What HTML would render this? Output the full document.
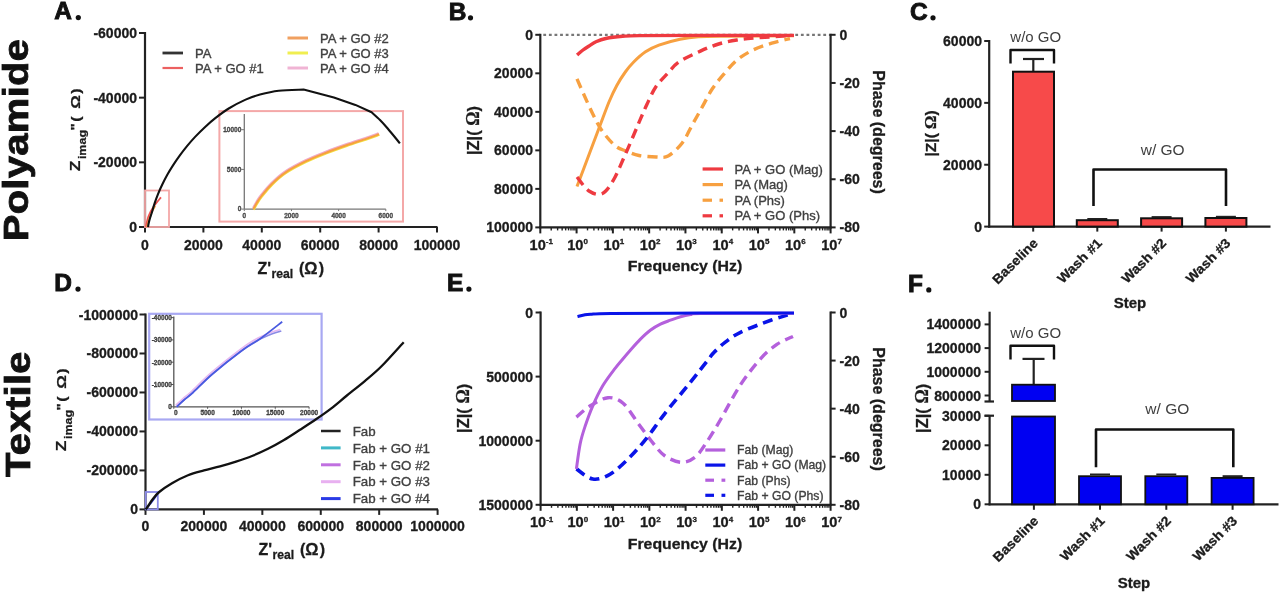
<!DOCTYPE html>
<html><head><meta charset="utf-8"><title>Impedance figure</title>
<style>html,body{margin:0;padding:0;background:#fff;width:1280px;height:594px;overflow:hidden}svg{display:block;filter:blur(0.6px)}text{font-family:"Liberation Sans",sans-serif}text[font-weight="bold"],g[font-weight="bold"] text{stroke:#1c1c1c;stroke-width:0.3px}</style>
</head><body>
<svg width="1280" height="594" viewBox="0 0 1280 594" font-family='"Liberation Sans", sans-serif'>
<rect width="1280" height="594" fill="#fff"/>
<text transform="translate(28,140) rotate(-90) scale(1.14,1)" font-size="35" font-weight="bold" text-anchor="middle" letter-spacing="0.3" fill="#111" style="stroke:#111;stroke-width:0.8px">Polyamide</text>
<text transform="translate(29.5,414) rotate(-90) scale(1.14,1)" font-size="35" font-weight="bold" text-anchor="middle" letter-spacing="0.3" fill="#111" style="stroke:#111;stroke-width:0.8px">Textile</text>
<text transform="translate(54.2,19.4) scale(1.04,1)" font-size="23.5" font-weight="bold" fill="#111" style="stroke:#111;stroke-width:0.9px">A</text>
<circle cx="78.3" cy="17.6" r="2.6" fill="#111"/>
<text transform="translate(448.7,19.6) scale(1.04,1)" font-size="23.5" font-weight="bold" fill="#111" style="stroke:#111;stroke-width:0.9px">B</text>
<circle cx="470.5" cy="17.8" r="2.6" fill="#111"/>
<text transform="translate(910.1,19.6) scale(1.04,1)" font-size="23.5" font-weight="bold" fill="#111" style="stroke:#111;stroke-width:0.9px">C</text>
<circle cx="933" cy="17.8" r="2.6" fill="#111"/>
<text transform="translate(54.2,290.9) scale(1.04,1)" font-size="23.5" font-weight="bold" fill="#111" style="stroke:#111;stroke-width:0.9px">D</text>
<circle cx="78" cy="289.1" r="2.6" fill="#111"/>
<text transform="translate(447,290.9) scale(1.04,1)" font-size="23.5" font-weight="bold" fill="#111" style="stroke:#111;stroke-width:0.9px">E</text>
<circle cx="468.9" cy="289.1" r="2.6" fill="#111"/>
<text transform="translate(908.1,291.7) scale(1.04,1)" font-size="23.5" font-weight="bold" fill="#111" style="stroke:#111;stroke-width:0.9px">F</text>
<circle cx="928.8" cy="289.9" r="2.6" fill="#111"/>
<line x1="145" y1="32" x2="145" y2="228" stroke="#222" stroke-width="2.2" />
<line x1="144" y1="227" x2="437.5" y2="227" stroke="#222" stroke-width="2.2" />
<line x1="139" y1="227" x2="145" y2="227" stroke="#222" stroke-width="2" />
<text x="137" y="232" font-size="14" font-weight="bold" text-anchor="end" fill="#1c1c1c" >0</text>
<line x1="139" y1="162.33" x2="145" y2="162.33" stroke="#222" stroke-width="2" />
<text x="137" y="167.33" font-size="14" font-weight="bold" text-anchor="end" fill="#1c1c1c" >-20000</text>
<line x1="139" y1="97.66" x2="145" y2="97.66" stroke="#222" stroke-width="2" />
<text x="137" y="102.66" font-size="14" font-weight="bold" text-anchor="end" fill="#1c1c1c" >-40000</text>
<line x1="139" y1="32.99" x2="145" y2="32.99" stroke="#222" stroke-width="2" />
<text x="137" y="37.99" font-size="14" font-weight="bold" text-anchor="end" fill="#1c1c1c" >-60000</text>
<line x1="145" y1="227" x2="145" y2="232.5" stroke="#222" stroke-width="2" />
<text x="145" y="249.5" font-size="14" font-weight="bold" text-anchor="middle" fill="#1c1c1c" >0</text>
<line x1="203.4" y1="227" x2="203.4" y2="232.5" stroke="#222" stroke-width="2" />
<text x="203.4" y="249.5" font-size="14" font-weight="bold" text-anchor="middle" fill="#1c1c1c" >20000</text>
<line x1="261.8" y1="227" x2="261.8" y2="232.5" stroke="#222" stroke-width="2" />
<text x="261.8" y="249.5" font-size="14" font-weight="bold" text-anchor="middle" fill="#1c1c1c" >40000</text>
<line x1="320.2" y1="227" x2="320.2" y2="232.5" stroke="#222" stroke-width="2" />
<text x="320.2" y="249.5" font-size="14" font-weight="bold" text-anchor="middle" fill="#1c1c1c" >60000</text>
<line x1="378.6" y1="227" x2="378.6" y2="232.5" stroke="#222" stroke-width="2" />
<text x="378.6" y="249.5" font-size="14" font-weight="bold" text-anchor="middle" fill="#1c1c1c" >80000</text>
<line x1="437" y1="227" x2="437" y2="232.5" stroke="#222" stroke-width="2" />
<text x="437" y="249.5" font-size="14" font-weight="bold" text-anchor="middle" fill="#1c1c1c" >100000</text>
<g fill="#1c1c1c" font-weight="bold"><text x="257.6" y="274" font-size="16">Z'</text><text x="271.4" y="277.5" font-size="12.2">real</text><text x="298.9" y="274" font-size="16">(</text><text x="304.2" y="274" font-size="16.5" font-family="'Liberation Serif', serif">&#937;</text><text x="318.8" y="274" font-size="16">)</text></g>
<g transform="translate(80.3,171.3) rotate(-90) scale(1,0.8)" fill="#1c1c1c" font-weight="bold"><text x="0" y="0" font-size="17.5">Z</text><text x="12.2" y="7" font-size="12.5">imag</text><text x="40.5" y="0" font-size="16">"</text><text x="49.5" y="0" font-size="16">(</text><text x="62.5" y="0" font-size="17" font-family="'Liberation Serif', serif">&#937;</text><text x="77.5" y="0" font-size="16">)</text></g>
<line x1="162.5" y1="53" x2="183" y2="53" stroke="#333" stroke-width="2.8" />
<text x="195" y="57.6" font-size="13" font-weight="normal" text-anchor="start" fill="#404040" stroke="#404040" stroke-width="0.35">PA</text>
<line x1="162.5" y1="68" x2="183" y2="68" stroke="#ec6060" stroke-width="2.2" />
<text x="195" y="72.6" font-size="13" font-weight="normal" text-anchor="start" fill="#404040" stroke="#404040" stroke-width="0.35">PA + GO #1</text>
<line x1="287.5" y1="38" x2="308" y2="38" stroke="#f0a060" stroke-width="3" />
<text x="320" y="42.6" font-size="13" font-weight="normal" text-anchor="start" fill="#404040" stroke="#404040" stroke-width="0.35">PA + GO #2</text>
<line x1="287.5" y1="53" x2="308" y2="53" stroke="#f0ee50" stroke-width="3" />
<text x="320" y="57.6" font-size="13" font-weight="normal" text-anchor="start" fill="#404040" stroke="#404040" stroke-width="0.35">PA + GO #3</text>
<line x1="287.5" y1="68" x2="308" y2="68" stroke="#f0b4d4" stroke-width="3" />
<text x="320" y="72.6" font-size="13" font-weight="normal" text-anchor="start" fill="#404040" stroke="#404040" stroke-width="0.35">PA + GO #4</text>
<rect x="145" y="190.5" width="24" height="36.5" fill="none" stroke="#f4a8a8" stroke-width="1.8"/>
<rect x="219.4" y="111.1" width="183.6" height="110.5" fill="none" stroke="#f4a8a8" stroke-width="2"/>
<path d="M145.8 227 C146.27 225.17 147.23 219.48 148.6 216 C149.97 212.52 151.93 209.2 154 206.1 C156.07 203 159.83 198.85 161 197.4" fill="none" stroke="#ee5050" stroke-width="1.8" stroke-linejoin="round" />
<path d="M146.6 227 C147.17 225.17 148.52 219.5 150 216 C151.48 212.5 154.58 207.67 155.5 206" fill="none" stroke="#f7a040" stroke-width="1.2" stroke-linejoin="round" />
<path d="M148 227 C148.15 226.22 148.53 223.88 148.9 222.3 C149.27 220.72 149.72 219.08 150.2 217.5 C150.68 215.92 151.07 215.17 151.8 212.8 C152.53 210.43 153.55 206.47 154.6 203.3 C155.65 200.13 156.8 196.97 158.1 193.8 C159.4 190.63 160.87 187.47 162.4 184.3 C163.93 181.13 165.53 177.95 167.3 174.8 C169.07 171.65 170.97 168.55 173 165.4 C175.03 162.25 177.2 159.07 179.5 155.9 C181.8 152.73 184.2 149.57 186.8 146.4 C189.4 143.23 192.13 140.07 195.1 136.9 C198.07 133.73 201.18 130.57 204.6 127.4 C208.02 124.23 211.58 121.05 215.6 117.9 C219.62 114.75 223.7 111.55 228.7 108.5 C233.7 105.45 240.38 101.92 245.6 99.6 C250.82 97.28 254.47 96.07 260 94.6 C265.53 93.13 271.53 91.63 278.8 90.8 C286.07 89.97 299.47 89.8 303.6 89.6 L333.9 97.5 L355.4 104.9 L371.6 112.3 C373 113.58 377.32 117.3 380 120 C382.68 122.7 384.38 124.62 387.7 128.5 C391.02 132.38 397.87 140.83 399.9 143.3" fill="none" stroke="#111" stroke-width="2.1" stroke-linejoin="round" />
<line x1="244.3" y1="114" x2="244.3" y2="209.1" stroke="#777" stroke-width="1.3" />
<line x1="244.3" y1="209.1" x2="385.8" y2="209.1" stroke="#777" stroke-width="1.3" />
<line x1="241.3" y1="209.1" x2="244.3" y2="209.1" stroke="#777" stroke-width="1" />
<text x="241.3" y="211.4" font-size="6.5" font-weight="bold" text-anchor="end" fill="#777" >0</text>
<line x1="241.3" y1="169.4" x2="244.3" y2="169.4" stroke="#777" stroke-width="1" />
<text x="241.3" y="171.7" font-size="6.5" font-weight="bold" text-anchor="end" fill="#777" >5000</text>
<line x1="241.3" y1="129.7" x2="244.3" y2="129.7" stroke="#777" stroke-width="1" />
<text x="241.3" y="132" font-size="6.5" font-weight="bold" text-anchor="end" fill="#777" >10000</text>
<line x1="244.3" y1="209.1" x2="244.3" y2="211.1" stroke="#777" stroke-width="1" />
<text x="244.3" y="218.3" font-size="6.5" font-weight="bold" text-anchor="middle" fill="#777" >0</text>
<line x1="291.47" y1="209.1" x2="291.47" y2="211.1" stroke="#777" stroke-width="1" />
<text x="291.47" y="218.3" font-size="6.5" font-weight="bold" text-anchor="middle" fill="#777" >2000</text>
<line x1="338.64" y1="209.1" x2="338.64" y2="211.1" stroke="#777" stroke-width="1" />
<text x="338.64" y="218.3" font-size="6.5" font-weight="bold" text-anchor="middle" fill="#777" >4000</text>
<line x1="385.81" y1="209.1" x2="385.81" y2="211.1" stroke="#777" stroke-width="1" />
<text x="385.81" y="218.3" font-size="6.5" font-weight="bold" text-anchor="middle" fill="#777" >6000</text>
<path d="M252.9 208 C253.5 206.9 255.15 203.58 256.5 201.4 C257.85 199.22 258.57 197.95 261 194.9 C263.43 191.85 267.07 187.05 271.1 183.1 C275.13 179.15 279.47 175.03 285.2 171.2 C290.93 167.37 298.75 163.37 305.5 160.1 C312.25 156.83 318.97 154.25 325.7 151.6 C332.43 148.95 339.17 146.55 345.9 144.2 C352.63 141.85 360.67 139.35 366.1 137.5 C371.53 135.65 376.43 133.83 378.5 133.1" fill="none" stroke="#f0a8c8" stroke-width="1.8" stroke-linejoin="round" />
<path d="M253.9 209.9 C254.5 208.8 256.15 205.48 257.5 203.3 C258.85 201.12 259.57 199.85 262 196.8 C264.43 193.75 268.07 188.95 272.1 185 C276.13 181.05 280.47 176.93 286.2 173.1 C291.93 169.27 299.75 165.27 306.5 162 C313.25 158.73 319.97 156.15 326.7 153.5 C333.43 150.85 340.17 148.45 346.9 146.1 C353.63 143.75 361.67 141.25 367.1 139.4 C372.53 137.55 377.43 135.73 379.5 135" fill="none" stroke="#f2e040" stroke-width="1.8" stroke-linejoin="round" />
<path d="M253.4 209.1 C254 208 255.65 204.68 257 202.5 C258.35 200.32 259.07 199.05 261.5 196 C263.93 192.95 267.57 188.15 271.6 184.2 C275.63 180.25 279.97 176.13 285.7 172.3 C291.43 168.47 299.25 164.47 306 161.2 C312.75 157.93 319.47 155.35 326.2 152.7 C332.93 150.05 339.67 147.65 346.4 145.3 C353.13 142.95 361.17 140.45 366.6 138.6 C372.03 136.75 376.93 134.93 379 134.2" fill="none" stroke="#f7a040" stroke-width="2" stroke-linejoin="round" />
<line x1="543.3" y1="34.8" x2="830.6" y2="34.8" stroke="#777" stroke-width="2.2" stroke-dasharray="2.8 2.8"/>
<line x1="540.3" y1="33.8" x2="540.3" y2="228.4" stroke="#222" stroke-width="2.2" />
<line x1="830.6" y1="33.8" x2="830.6" y2="228.4" stroke="#222" stroke-width="2.2" />
<line x1="539.3" y1="227.4" x2="831.6" y2="227.4" stroke="#222" stroke-width="2.2" />
<line x1="535.3" y1="34.8" x2="540.3" y2="34.8" stroke="#222" stroke-width="2" />
<text x="533" y="39.8" font-size="14" font-weight="bold" text-anchor="end" fill="#1c1c1c" >0</text>
<line x1="535.3" y1="73.32" x2="540.3" y2="73.32" stroke="#222" stroke-width="2" />
<text x="533" y="78.32" font-size="14" font-weight="bold" text-anchor="end" fill="#1c1c1c" >20000</text>
<line x1="535.3" y1="111.84" x2="540.3" y2="111.84" stroke="#222" stroke-width="2" />
<text x="533" y="116.84" font-size="14" font-weight="bold" text-anchor="end" fill="#1c1c1c" >40000</text>
<line x1="535.3" y1="150.36" x2="540.3" y2="150.36" stroke="#222" stroke-width="2" />
<text x="533" y="155.36" font-size="14" font-weight="bold" text-anchor="end" fill="#1c1c1c" >60000</text>
<line x1="535.3" y1="188.88" x2="540.3" y2="188.88" stroke="#222" stroke-width="2" />
<text x="533" y="193.88" font-size="14" font-weight="bold" text-anchor="end" fill="#1c1c1c" >80000</text>
<line x1="535.3" y1="227.4" x2="540.3" y2="227.4" stroke="#222" stroke-width="2" />
<text x="533" y="232.4" font-size="14" font-weight="bold" text-anchor="end" fill="#1c1c1c" >100000</text>
<line x1="830.6" y1="34.8" x2="835.6" y2="34.8" stroke="#222" stroke-width="2" />
<text x="839.5" y="39.8" font-size="14" font-weight="bold" text-anchor="start" fill="#1c1c1c" >0</text>
<line x1="830.6" y1="82.95" x2="835.6" y2="82.95" stroke="#222" stroke-width="2" />
<text x="839.5" y="87.95" font-size="14" font-weight="bold" text-anchor="start" fill="#1c1c1c" >-20</text>
<line x1="830.6" y1="131.1" x2="835.6" y2="131.1" stroke="#222" stroke-width="2" />
<text x="839.5" y="136.1" font-size="14" font-weight="bold" text-anchor="start" fill="#1c1c1c" >-40</text>
<line x1="830.6" y1="179.25" x2="835.6" y2="179.25" stroke="#222" stroke-width="2" />
<text x="839.5" y="184.25" font-size="14" font-weight="bold" text-anchor="start" fill="#1c1c1c" >-60</text>
<line x1="830.6" y1="227.4" x2="835.6" y2="227.4" stroke="#222" stroke-width="2" />
<text x="839.5" y="232.4" font-size="14" font-weight="bold" text-anchor="start" fill="#1c1c1c" >-80</text>
<line x1="540.3" y1="227.4" x2="540.3" y2="233.4" stroke="#222" stroke-width="2" />
<text x="541.3" y="249.8" font-size="14.6" font-weight="bold" text-anchor="middle" fill="#1c1c1c">10<tspan font-size="8" dy="-5.5">-1</tspan></text>
<line x1="551.22" y1="227.4" x2="551.22" y2="230.4" stroke="#222" stroke-width="1.4" />
<line x1="557.61" y1="227.4" x2="557.61" y2="230.4" stroke="#222" stroke-width="1.4" />
<line x1="562.15" y1="227.4" x2="562.15" y2="230.4" stroke="#222" stroke-width="1.4" />
<line x1="565.66" y1="227.4" x2="565.66" y2="230.4" stroke="#222" stroke-width="1.4" />
<line x1="568.54" y1="227.4" x2="568.54" y2="230.4" stroke="#222" stroke-width="1.4" />
<line x1="570.97" y1="227.4" x2="570.97" y2="230.4" stroke="#222" stroke-width="1.4" />
<line x1="573.07" y1="227.4" x2="573.07" y2="230.4" stroke="#222" stroke-width="1.4" />
<line x1="574.93" y1="227.4" x2="574.93" y2="230.4" stroke="#222" stroke-width="1.4" />
<line x1="576.59" y1="227.4" x2="576.59" y2="233.4" stroke="#222" stroke-width="2" />
<text x="577.59" y="249.8" font-size="14.6" font-weight="bold" text-anchor="middle" fill="#1c1c1c">10<tspan font-size="8" dy="-5.5">0</tspan></text>
<line x1="587.51" y1="227.4" x2="587.51" y2="230.4" stroke="#222" stroke-width="1.4" />
<line x1="593.9" y1="227.4" x2="593.9" y2="230.4" stroke="#222" stroke-width="1.4" />
<line x1="598.43" y1="227.4" x2="598.43" y2="230.4" stroke="#222" stroke-width="1.4" />
<line x1="601.95" y1="227.4" x2="601.95" y2="230.4" stroke="#222" stroke-width="1.4" />
<line x1="604.82" y1="227.4" x2="604.82" y2="230.4" stroke="#222" stroke-width="1.4" />
<line x1="607.25" y1="227.4" x2="607.25" y2="230.4" stroke="#222" stroke-width="1.4" />
<line x1="609.36" y1="227.4" x2="609.36" y2="230.4" stroke="#222" stroke-width="1.4" />
<line x1="611.21" y1="227.4" x2="611.21" y2="230.4" stroke="#222" stroke-width="1.4" />
<line x1="612.88" y1="227.4" x2="612.88" y2="233.4" stroke="#222" stroke-width="2" />
<text x="613.88" y="249.8" font-size="14.6" font-weight="bold" text-anchor="middle" fill="#1c1c1c">10<tspan font-size="8" dy="-5.5">1</tspan></text>
<line x1="623.8" y1="227.4" x2="623.8" y2="230.4" stroke="#222" stroke-width="1.4" />
<line x1="630.19" y1="227.4" x2="630.19" y2="230.4" stroke="#222" stroke-width="1.4" />
<line x1="634.72" y1="227.4" x2="634.72" y2="230.4" stroke="#222" stroke-width="1.4" />
<line x1="638.24" y1="227.4" x2="638.24" y2="230.4" stroke="#222" stroke-width="1.4" />
<line x1="641.11" y1="227.4" x2="641.11" y2="230.4" stroke="#222" stroke-width="1.4" />
<line x1="643.54" y1="227.4" x2="643.54" y2="230.4" stroke="#222" stroke-width="1.4" />
<line x1="645.65" y1="227.4" x2="645.65" y2="230.4" stroke="#222" stroke-width="1.4" />
<line x1="647.5" y1="227.4" x2="647.5" y2="230.4" stroke="#222" stroke-width="1.4" />
<line x1="649.16" y1="227.4" x2="649.16" y2="233.4" stroke="#222" stroke-width="2" />
<text x="650.16" y="249.8" font-size="14.6" font-weight="bold" text-anchor="middle" fill="#1c1c1c">10<tspan font-size="8" dy="-5.5">2</tspan></text>
<line x1="660.09" y1="227.4" x2="660.09" y2="230.4" stroke="#222" stroke-width="1.4" />
<line x1="666.48" y1="227.4" x2="666.48" y2="230.4" stroke="#222" stroke-width="1.4" />
<line x1="671.01" y1="227.4" x2="671.01" y2="230.4" stroke="#222" stroke-width="1.4" />
<line x1="674.53" y1="227.4" x2="674.53" y2="230.4" stroke="#222" stroke-width="1.4" />
<line x1="677.4" y1="227.4" x2="677.4" y2="230.4" stroke="#222" stroke-width="1.4" />
<line x1="679.83" y1="227.4" x2="679.83" y2="230.4" stroke="#222" stroke-width="1.4" />
<line x1="681.93" y1="227.4" x2="681.93" y2="230.4" stroke="#222" stroke-width="1.4" />
<line x1="683.79" y1="227.4" x2="683.79" y2="230.4" stroke="#222" stroke-width="1.4" />
<line x1="685.45" y1="227.4" x2="685.45" y2="233.4" stroke="#222" stroke-width="2" />
<text x="686.45" y="249.8" font-size="14.6" font-weight="bold" text-anchor="middle" fill="#1c1c1c">10<tspan font-size="8" dy="-5.5">3</tspan></text>
<line x1="696.37" y1="227.4" x2="696.37" y2="230.4" stroke="#222" stroke-width="1.4" />
<line x1="702.76" y1="227.4" x2="702.76" y2="230.4" stroke="#222" stroke-width="1.4" />
<line x1="707.3" y1="227.4" x2="707.3" y2="230.4" stroke="#222" stroke-width="1.4" />
<line x1="710.81" y1="227.4" x2="710.81" y2="230.4" stroke="#222" stroke-width="1.4" />
<line x1="713.69" y1="227.4" x2="713.69" y2="230.4" stroke="#222" stroke-width="1.4" />
<line x1="716.12" y1="227.4" x2="716.12" y2="230.4" stroke="#222" stroke-width="1.4" />
<line x1="718.22" y1="227.4" x2="718.22" y2="230.4" stroke="#222" stroke-width="1.4" />
<line x1="720.08" y1="227.4" x2="720.08" y2="230.4" stroke="#222" stroke-width="1.4" />
<line x1="721.74" y1="227.4" x2="721.74" y2="233.4" stroke="#222" stroke-width="2" />
<text x="722.74" y="249.8" font-size="14.6" font-weight="bold" text-anchor="middle" fill="#1c1c1c">10<tspan font-size="8" dy="-5.5">4</tspan></text>
<line x1="732.66" y1="227.4" x2="732.66" y2="230.4" stroke="#222" stroke-width="1.4" />
<line x1="739.05" y1="227.4" x2="739.05" y2="230.4" stroke="#222" stroke-width="1.4" />
<line x1="743.58" y1="227.4" x2="743.58" y2="230.4" stroke="#222" stroke-width="1.4" />
<line x1="747.1" y1="227.4" x2="747.1" y2="230.4" stroke="#222" stroke-width="1.4" />
<line x1="749.97" y1="227.4" x2="749.97" y2="230.4" stroke="#222" stroke-width="1.4" />
<line x1="752.4" y1="227.4" x2="752.4" y2="230.4" stroke="#222" stroke-width="1.4" />
<line x1="754.51" y1="227.4" x2="754.51" y2="230.4" stroke="#222" stroke-width="1.4" />
<line x1="756.36" y1="227.4" x2="756.36" y2="230.4" stroke="#222" stroke-width="1.4" />
<line x1="758.02" y1="227.4" x2="758.02" y2="233.4" stroke="#222" stroke-width="2" />
<text x="759.02" y="249.8" font-size="14.6" font-weight="bold" text-anchor="middle" fill="#1c1c1c">10<tspan font-size="8" dy="-5.5">5</tspan></text>
<line x1="768.95" y1="227.4" x2="768.95" y2="230.4" stroke="#222" stroke-width="1.4" />
<line x1="775.34" y1="227.4" x2="775.34" y2="230.4" stroke="#222" stroke-width="1.4" />
<line x1="779.87" y1="227.4" x2="779.87" y2="230.4" stroke="#222" stroke-width="1.4" />
<line x1="783.39" y1="227.4" x2="783.39" y2="230.4" stroke="#222" stroke-width="1.4" />
<line x1="786.26" y1="227.4" x2="786.26" y2="230.4" stroke="#222" stroke-width="1.4" />
<line x1="788.69" y1="227.4" x2="788.69" y2="230.4" stroke="#222" stroke-width="1.4" />
<line x1="790.8" y1="227.4" x2="790.8" y2="230.4" stroke="#222" stroke-width="1.4" />
<line x1="792.65" y1="227.4" x2="792.65" y2="230.4" stroke="#222" stroke-width="1.4" />
<line x1="794.31" y1="227.4" x2="794.31" y2="233.4" stroke="#222" stroke-width="2" />
<text x="795.31" y="249.8" font-size="14.6" font-weight="bold" text-anchor="middle" fill="#1c1c1c">10<tspan font-size="8" dy="-5.5">6</tspan></text>
<line x1="805.24" y1="227.4" x2="805.24" y2="230.4" stroke="#222" stroke-width="1.4" />
<line x1="811.63" y1="227.4" x2="811.63" y2="230.4" stroke="#222" stroke-width="1.4" />
<line x1="816.16" y1="227.4" x2="816.16" y2="230.4" stroke="#222" stroke-width="1.4" />
<line x1="819.68" y1="227.4" x2="819.68" y2="230.4" stroke="#222" stroke-width="1.4" />
<line x1="822.55" y1="227.4" x2="822.55" y2="230.4" stroke="#222" stroke-width="1.4" />
<line x1="824.98" y1="227.4" x2="824.98" y2="230.4" stroke="#222" stroke-width="1.4" />
<line x1="827.08" y1="227.4" x2="827.08" y2="230.4" stroke="#222" stroke-width="1.4" />
<line x1="828.94" y1="227.4" x2="828.94" y2="230.4" stroke="#222" stroke-width="1.4" />
<line x1="830.6" y1="227.4" x2="830.6" y2="233.4" stroke="#222" stroke-width="2" />
<text x="831.6" y="249.8" font-size="14.6" font-weight="bold" text-anchor="middle" fill="#1c1c1c">10<tspan font-size="8" dy="-5.5">7</tspan></text>
<text x="685" y="271.3" font-size="15" font-weight="bold" text-anchor="middle" fill="#1c1c1c" textLength="114.5" lengthAdjust="spacingAndGlyphs">Frequency (Hz)</text>
<text transform="translate(479,130.5) rotate(-90)" font-size="16.5" font-weight="bold" text-anchor="middle" fill="#1c1c1c">|Z|( <tspan font-size="17.82" font-family="'Liberation Serif', serif">&#937;</tspan>)</text>
<text transform="translate(872.5,132) rotate(90)" font-size="16" font-weight="bold" text-anchor="middle" fill="#1c1c1c">Phase (degrees)</text>
<path d="M577 186.5 C579.17 180.75 586.17 162.17 590 152 C593.83 141.83 596.8 133.92 600 125.5 C603.2 117.08 606.4 108.17 609.2 101.5 C612 94.83 614.12 90.42 616.8 85.5 C619.48 80.58 622.48 75.92 625.3 72 C628.12 68.08 630.33 65.37 633.7 62 C637.07 58.63 641.3 54.62 645.5 51.8 C649.7 48.98 653.15 47.2 658.9 45.1 C664.65 43 673.42 40.58 680 39.2 C686.58 37.82 690.07 37.3 698.4 36.8 C706.73 36.3 714.07 36.37 730 36.2 C745.93 36.03 783.33 35.87 794 35.8" fill="none" stroke="#f7a040" stroke-width="3" stroke-linejoin="round" />
<path d="M577 78.9 C578.08 81.37 580.87 87.85 583.5 93.7 C586.13 99.55 589.72 107.83 592.8 114 C595.88 120.17 598.3 125.43 602 130.7 C605.7 135.97 610.98 142.2 615 145.6 C619.02 149 622.1 149.45 626.1 151.1 C630.1 152.75 633.97 154.52 639 155.5 C644.03 156.48 651.45 156.92 656.3 157 C661.15 157.08 663.78 158.33 668.1 156 C672.42 153.67 678.17 148.2 682.2 143 C686.23 137.8 688.93 130.85 692.3 124.8 C695.67 118.75 699.03 112.75 702.4 106.7 C705.77 100.65 708.8 94.07 712.5 88.5 C716.2 82.93 720.55 78.02 724.6 73.3 C728.65 68.58 732.08 64.07 736.8 60.2 C741.52 56.33 747.07 52.93 752.9 50.1 C758.73 47.27 765.62 45.12 771.8 43.2 C777.98 41.28 786.97 39.37 790 38.6" fill="none" stroke="#f7a040" stroke-width="3.4" stroke-linejoin="round" stroke-dasharray="10 6"/>
<path d="M577 177 C579 179.33 584.83 188.22 589 191 C593.17 193.78 597.98 195.42 602 193.7 C606.02 191.98 609.38 186.87 613.1 180.7 C616.82 174.53 620.87 164.32 624.3 156.7 C627.73 149.08 631.02 141.25 633.7 135 C636.38 128.75 638.17 124.37 640.4 119.2 C642.63 114.03 644.57 109.33 647.1 104 C649.63 98.67 652.23 92.25 655.6 87.2 C658.97 82.15 663.38 77.92 667.3 73.7 C671.22 69.48 673.58 65.67 679.1 61.9 C684.62 58.13 693.82 54.08 700.4 51.1 C706.98 48.12 712.53 45.85 718.6 44 C724.67 42.15 730.45 41.02 736.8 40 C743.15 38.98 747.83 38.63 756.7 37.9 C765.57 37.17 784.45 35.98 790 35.6" fill="none" stroke="#ee3a40" stroke-width="3.4" stroke-linejoin="round" stroke-dasharray="10 6"/>
<path d="M577.1 55 C578.08 54.17 581.02 51.5 583 50 C584.98 48.5 586.83 47.37 589 46 C591.17 44.63 593.2 43.05 596 41.8 C598.8 40.55 601.37 39.42 605.8 38.5 C610.23 37.58 617 36.78 622.6 36.3 C628.2 35.82 626.5 35.75 639.4 35.6 C652.3 35.45 674.23 35.43 700 35.4 C725.77 35.37 778.33 35.4 794 35.4" fill="none" stroke="#ee3a40" stroke-width="3.4" stroke-linejoin="round" />
<line x1="702.6" y1="169" x2="723" y2="169" stroke="#ee3a40" stroke-width="3.2" />
<text x="734.6" y="173.6" font-size="13" font-weight="normal" text-anchor="start" fill="#404040" stroke="#404040" stroke-width="0.35">PA + GO (Mag)</text>
<line x1="702.6" y1="184.6" x2="723" y2="184.6" stroke="#f7a040" stroke-width="3.2" />
<text x="734.6" y="189.2" font-size="13" font-weight="normal" text-anchor="start" fill="#404040" stroke="#404040" stroke-width="0.35">PA (Mag)</text>
<line x1="702.6" y1="200.2" x2="712" y2="200.2" stroke="#f7a040" stroke-width="3.2" />
<line x1="719.5" y1="200.2" x2="723" y2="200.2" stroke="#f7a040" stroke-width="3.2" />
<text x="734.6" y="204.8" font-size="13" font-weight="normal" text-anchor="start" fill="#404040" stroke="#404040" stroke-width="0.35">PA (Phs)</text>
<line x1="702.6" y1="215.8" x2="712" y2="215.8" stroke="#ee3a40" stroke-width="3.2" />
<line x1="719.5" y1="215.8" x2="723" y2="215.8" stroke="#ee3a40" stroke-width="3.2" />
<text x="734.6" y="220.4" font-size="13" font-weight="normal" text-anchor="start" fill="#404040" stroke="#404040" stroke-width="0.35">PA + GO (Phs)</text>
<line x1="989.2" y1="40" x2="989.2" y2="227.6" stroke="#222" stroke-width="2.2" />
<line x1="988.2" y1="226.6" x2="1270.5" y2="226.6" stroke="#222" stroke-width="2.2" />
<line x1="984.2" y1="226.6" x2="989.2" y2="226.6" stroke="#222" stroke-width="2" />
<text x="982" y="231.6" font-size="14" font-weight="bold" text-anchor="end" fill="#1c1c1c" >0</text>
<line x1="984.2" y1="164.73" x2="989.2" y2="164.73" stroke="#222" stroke-width="2" />
<text x="982" y="169.73" font-size="14" font-weight="bold" text-anchor="end" fill="#1c1c1c" >20000</text>
<line x1="984.2" y1="102.87" x2="989.2" y2="102.87" stroke="#222" stroke-width="2" />
<text x="982" y="107.87" font-size="14" font-weight="bold" text-anchor="end" fill="#1c1c1c" >40000</text>
<line x1="984.2" y1="41" x2="989.2" y2="41" stroke="#222" stroke-width="2" />
<text x="982" y="46" font-size="14" font-weight="bold" text-anchor="end" fill="#1c1c1c" >60000</text>
<line x1="1033.2" y1="226.6" x2="1033.2" y2="231.6" stroke="#222" stroke-width="2" />
<text transform="translate(1038.7,243.9) rotate(-45) scale(1.07,1)" font-size="13.2" font-weight="bold" text-anchor="end" fill="#1c1c1c">Baseline</text>
<line x1="1097.3" y1="226.6" x2="1097.3" y2="231.6" stroke="#222" stroke-width="2" />
<text transform="translate(1102.8,243.9) rotate(-45) scale(1.07,1)" font-size="13.2" font-weight="bold" text-anchor="end" fill="#1c1c1c">Wash #1</text>
<line x1="1161.6" y1="226.6" x2="1161.6" y2="231.6" stroke="#222" stroke-width="2" />
<text transform="translate(1167.1,243.9) rotate(-45) scale(1.07,1)" font-size="13.2" font-weight="bold" text-anchor="end" fill="#1c1c1c">Wash #2</text>
<line x1="1225.9" y1="226.6" x2="1225.9" y2="231.6" stroke="#222" stroke-width="2" />
<text transform="translate(1231.4,243.9) rotate(-45) scale(1.07,1)" font-size="13.2" font-weight="bold" text-anchor="end" fill="#1c1c1c">Wash #3</text>
<text x="1130" y="308.3" font-size="15" font-weight="bold" text-anchor="middle" fill="#1c1c1c" >Step</text>
<text transform="translate(936,133.4) rotate(-90)" font-size="15.5" font-weight="bold" text-anchor="middle" fill="#1c1c1c">|Z|( <tspan font-size="16.74" font-family="'Liberation Serif', serif">&#937;</tspan>)</text>
<line x1="1033.3" y1="59" x2="1033.3" y2="72" stroke="#222" stroke-width="2.2" />
<line x1="1023" y1="59" x2="1044" y2="59" stroke="#222" stroke-width="2.2" />
<rect x="1013" y="71.7" width="41" height="154.9" fill="#f74a4a" stroke="#111" stroke-width="2"/>
<line x1="1087.3" y1="218.9" x2="1107.3" y2="218.9" stroke="#222" stroke-width="1.8" />
<rect x="1076.8" y="220.2" width="41" height="6.4" fill="#f74a4a" stroke="#111" stroke-width="2"/>
<line x1="1151.6" y1="217" x2="1171.6" y2="217" stroke="#222" stroke-width="1.8" />
<rect x="1141.1" y="218.3" width="41" height="8.3" fill="#f74a4a" stroke="#111" stroke-width="2"/>
<line x1="1215.9" y1="216.7" x2="1235.9" y2="216.7" stroke="#222" stroke-width="1.8" />
<rect x="1205.4" y="218" width="41" height="8.6" fill="#f74a4a" stroke="#111" stroke-width="2"/>
<path d="M1010.5 63.6 L1010.5 50 L1054 50 L1054 63.6" fill="none" stroke="#111" stroke-width="2.4" stroke-linejoin="round" />
<text x="1035.8" y="42.4" font-size="15" font-weight="normal" text-anchor="middle" fill="#404040" >w/o GO</text>
<path d="M1093.5 206 L1093.5 169.5 L1226 169.5 L1226 206" fill="none" stroke="#111" stroke-width="2.6" stroke-linejoin="round" />
<text x="1162.7" y="155.4" font-size="15.5" font-weight="normal" text-anchor="middle" fill="#404040" >w/ GO</text>
<line x1="145.5" y1="313.5" x2="145.5" y2="510.4" stroke="#222" stroke-width="2.2" />
<line x1="144.5" y1="509.4" x2="438" y2="509.4" stroke="#222" stroke-width="2.2" />
<line x1="139.5" y1="509.4" x2="145.5" y2="509.4" stroke="#222" stroke-width="2" />
<text x="138" y="514.4" font-size="14" font-weight="bold" text-anchor="end" fill="#1c1c1c" >0</text>
<line x1="139.5" y1="470.42" x2="145.5" y2="470.42" stroke="#222" stroke-width="2" />
<text x="138" y="475.42" font-size="14" font-weight="bold" text-anchor="end" fill="#1c1c1c" >-200000</text>
<line x1="139.5" y1="431.44" x2="145.5" y2="431.44" stroke="#222" stroke-width="2" />
<text x="138" y="436.44" font-size="14" font-weight="bold" text-anchor="end" fill="#1c1c1c" >-400000</text>
<line x1="139.5" y1="392.46" x2="145.5" y2="392.46" stroke="#222" stroke-width="2" />
<text x="138" y="397.46" font-size="14" font-weight="bold" text-anchor="end" fill="#1c1c1c" >-600000</text>
<line x1="139.5" y1="353.48" x2="145.5" y2="353.48" stroke="#222" stroke-width="2" />
<text x="138" y="358.48" font-size="14" font-weight="bold" text-anchor="end" fill="#1c1c1c" >-800000</text>
<line x1="139.5" y1="314.5" x2="145.5" y2="314.5" stroke="#222" stroke-width="2" />
<text x="138" y="319.5" font-size="14" font-weight="bold" text-anchor="end" fill="#1c1c1c" >-1000000</text>
<line x1="145.5" y1="509.4" x2="145.5" y2="514.9" stroke="#222" stroke-width="2" />
<text x="145.5" y="531" font-size="14" font-weight="bold" text-anchor="middle" fill="#1c1c1c" >0</text>
<line x1="203.92" y1="509.4" x2="203.92" y2="514.9" stroke="#222" stroke-width="2" />
<text x="203.92" y="531" font-size="14" font-weight="bold" text-anchor="middle" fill="#1c1c1c" >200000</text>
<line x1="262.34" y1="509.4" x2="262.34" y2="514.9" stroke="#222" stroke-width="2" />
<text x="262.34" y="531" font-size="14" font-weight="bold" text-anchor="middle" fill="#1c1c1c" >400000</text>
<line x1="320.76" y1="509.4" x2="320.76" y2="514.9" stroke="#222" stroke-width="2" />
<text x="320.76" y="531" font-size="14" font-weight="bold" text-anchor="middle" fill="#1c1c1c" >600000</text>
<line x1="379.18" y1="509.4" x2="379.18" y2="514.9" stroke="#222" stroke-width="2" />
<text x="379.18" y="531" font-size="14" font-weight="bold" text-anchor="middle" fill="#1c1c1c" >800000</text>
<line x1="437.6" y1="509.4" x2="437.6" y2="514.9" stroke="#222" stroke-width="2" />
<text x="437.6" y="531" font-size="14" font-weight="bold" text-anchor="middle" fill="#1c1c1c" >1000000</text>
<g fill="#1c1c1c" font-weight="bold"><text x="258.6" y="555" font-size="16">Z'</text><text x="272.4" y="558.5" font-size="12.2">real</text><text x="299.9" y="555" font-size="16">(</text><text x="305.2" y="555" font-size="16.5" font-family="'Liberation Serif', serif">&#937;</text><text x="319.8" y="555" font-size="16">)</text></g>
<g transform="translate(66.3,451.2) rotate(-90) scale(1,0.8)" fill="#1c1c1c" font-weight="bold"><text x="0" y="0" font-size="17.5">Z</text><text x="12.2" y="7" font-size="12.5">imag</text><text x="40.5" y="0" font-size="16">"</text><text x="49.5" y="0" font-size="16">(</text><text x="62.5" y="0" font-size="17" font-family="'Liberation Serif', serif">&#937;</text><text x="77.5" y="0" font-size="16">)</text></g>
<rect x="145.7" y="492" width="12.1" height="17.4" fill="none" stroke="#8a8ae8" stroke-width="1.8"/>
<rect x="149.2" y="313.8" width="172.4" height="105.7" fill="none" stroke="#a8a8f2" stroke-width="2.2"/>
<path d="M145.7 509.4 C146.42 508.5 148.45 505.98 150 504 C151.55 502.02 153.7 499.33 155 497.5 C156.3 495.67 157.33 493.75 157.8 493" fill="none" stroke="#3040d8" stroke-width="2" stroke-linejoin="round" />
<path d="M145.7 509.4 C146.17 508.75 147.37 507.15 148.5 505.5 C149.63 503.85 150.72 501.75 152.5 499.5 C154.28 497.25 155.95 494.72 159.2 492 C162.45 489.28 167.2 486 172 483.2 C176.8 480.4 182.67 477.33 188 475.2 C193.33 473.07 198.67 471.87 204 470.4 C209.33 468.93 214.67 467.87 220 466.4 C225.33 464.93 230.67 463.33 236 461.6 C241.33 459.87 246.67 458.13 252 456 C257.33 453.87 262.67 451.47 268 448.8 C273.33 446.13 278.67 443.17 284 440 C289.33 436.83 294.67 433.25 300 429.8 C305.33 426.35 310.83 422.83 316 419.3 C321.17 415.77 325.95 412.48 331 408.6 C336.05 404.72 340.67 400.58 346.3 396 C351.93 391.42 358.93 386.05 364.8 381.1 C370.67 376.15 375.02 372.78 381.5 366.3 C387.98 359.82 400 346.22 403.7 342.2" fill="none" stroke="#111" stroke-width="2.3" stroke-linejoin="round" />
<line x1="173.8" y1="316.6" x2="173.8" y2="406.8" stroke="#555" stroke-width="1.3" />
<line x1="173.8" y1="406.8" x2="309.1" y2="406.8" stroke="#555" stroke-width="1.3" />
<line x1="170.8" y1="406.8" x2="173.8" y2="406.8" stroke="#555" stroke-width="1" />
<text x="171.9" y="409.1" font-size="6.5" font-weight="bold" text-anchor="end" fill="#666" >0</text>
<line x1="170.8" y1="384.5" x2="173.8" y2="384.5" stroke="#555" stroke-width="1" />
<text x="171.9" y="386.8" font-size="6.5" font-weight="bold" text-anchor="end" fill="#666" >-10000</text>
<line x1="170.8" y1="362.2" x2="173.8" y2="362.2" stroke="#555" stroke-width="1" />
<text x="171.9" y="364.5" font-size="6.5" font-weight="bold" text-anchor="end" fill="#666" >-20000</text>
<line x1="170.8" y1="339.9" x2="173.8" y2="339.9" stroke="#555" stroke-width="1" />
<text x="171.9" y="342.2" font-size="6.5" font-weight="bold" text-anchor="end" fill="#666" >-30000</text>
<line x1="170.8" y1="317.6" x2="173.8" y2="317.6" stroke="#555" stroke-width="1" />
<text x="171.9" y="319.9" font-size="6.5" font-weight="bold" text-anchor="end" fill="#666" >-40000</text>
<line x1="173.8" y1="406.8" x2="173.8" y2="408.8" stroke="#555" stroke-width="1" />
<text x="175.8" y="415.3" font-size="6.5" font-weight="bold" text-anchor="middle" fill="#666" >0</text>
<line x1="207.62" y1="406.8" x2="207.62" y2="408.8" stroke="#555" stroke-width="1" />
<text x="207.62" y="415.3" font-size="6.5" font-weight="bold" text-anchor="middle" fill="#666" >5000</text>
<line x1="241.44" y1="406.8" x2="241.44" y2="408.8" stroke="#555" stroke-width="1" />
<text x="241.44" y="415.3" font-size="6.5" font-weight="bold" text-anchor="middle" fill="#666" >10000</text>
<line x1="275.26" y1="406.8" x2="275.26" y2="408.8" stroke="#555" stroke-width="1" />
<text x="275.26" y="415.3" font-size="6.5" font-weight="bold" text-anchor="middle" fill="#666" >15000</text>
<line x1="309.08" y1="406.8" x2="309.08" y2="408.8" stroke="#555" stroke-width="1" />
<text x="309.08" y="415.3" font-size="6.5" font-weight="bold" text-anchor="middle" fill="#666" >20000</text>
<path d="M175.7 405.3 C176.92 404.17 180.28 400.88 183 398.5 C185.72 396.12 187.3 395.3 192 391 C196.7 386.7 203.2 379.58 211.2 372.7 C219.2 365.82 232.97 355.07 240 349.7 C247.03 344.33 248.9 343.12 253.4 340.5 C257.9 337.88 262.52 335.83 267 334 C271.48 332.17 278.08 330.25 280.3 329.5" fill="none" stroke="#e6b8f0" stroke-width="1.6" stroke-linejoin="round" />
<path d="M176.7 406.8 C177.92 405.67 181.28 402.38 184 400 C186.72 397.62 188.3 396.8 193 392.5 C197.7 388.2 204.2 381.08 212.2 374.2 C220.2 367.32 233.97 356.57 241 351.2 C248.03 345.83 249.9 344.62 254.4 342 C258.9 339.38 263.52 337.33 268 335.5 C272.48 333.67 279.08 331.75 281.3 331" fill="none" stroke="#8a8ae6" stroke-width="1.6" stroke-linejoin="round" />
<path d="M176.7 406.8 C177.92 405.67 181.28 402.38 184 400 C186.72 397.62 188.3 396.8 193 392.5 C197.7 388.2 204.2 381.08 212.2 374.2 C220.2 367.32 233 357.12 241 351.2 C249 345.28 253.33 343.6 260.2 338.7 C267.07 333.8 278.53 324.62 282.2 321.8" fill="none" stroke="#4a5ae0" stroke-width="1.8" stroke-linejoin="round" />
<line x1="321" y1="431" x2="340.6" y2="431" stroke="#222" stroke-width="2.5" />
<text x="352.7" y="435.7" font-size="13.3" font-weight="normal" text-anchor="start" fill="#404040" stroke="#404040" stroke-width="0.35">Fab</text>
<line x1="321" y1="447.9" x2="340.6" y2="447.9" stroke="#40b8c8" stroke-width="3" />
<text x="352.7" y="452.6" font-size="13.3" font-weight="normal" text-anchor="start" fill="#404040" stroke="#404040" stroke-width="0.35">Fab + GO #1</text>
<line x1="321" y1="464.8" x2="340.6" y2="464.8" stroke="#c070e0" stroke-width="3" />
<text x="352.7" y="469.5" font-size="13.3" font-weight="normal" text-anchor="start" fill="#404040" stroke="#404040" stroke-width="0.35">Fab + GO #2</text>
<line x1="321" y1="481.7" x2="340.6" y2="481.7" stroke="#e8b0f0" stroke-width="3" />
<text x="352.7" y="486.4" font-size="13.3" font-weight="normal" text-anchor="start" fill="#404040" stroke="#404040" stroke-width="0.35">Fab + GO #3</text>
<line x1="321" y1="498.6" x2="340.6" y2="498.6" stroke="#2a3ae6" stroke-width="3" />
<text x="352.7" y="503.3" font-size="13.3" font-weight="normal" text-anchor="start" fill="#404040" stroke="#404040" stroke-width="0.35">Fab + GO #4</text>
<line x1="540.6" y1="311.5" x2="540.6" y2="505.8" stroke="#222" stroke-width="2.2" />
<line x1="830.6" y1="311.5" x2="830.6" y2="505.8" stroke="#222" stroke-width="2.2" />
<line x1="539.6" y1="504.8" x2="831.6" y2="504.8" stroke="#222" stroke-width="2.2" />
<line x1="535.6" y1="312.5" x2="540.6" y2="312.5" stroke="#222" stroke-width="2" />
<text x="533" y="317.5" font-size="14" font-weight="bold" text-anchor="end" fill="#1c1c1c" >0</text>
<line x1="535.6" y1="376.6" x2="540.6" y2="376.6" stroke="#222" stroke-width="2" />
<text x="533" y="381.6" font-size="14" font-weight="bold" text-anchor="end" fill="#1c1c1c" >500000</text>
<line x1="535.6" y1="440.7" x2="540.6" y2="440.7" stroke="#222" stroke-width="2" />
<text x="533" y="445.7" font-size="14" font-weight="bold" text-anchor="end" fill="#1c1c1c" >1000000</text>
<line x1="535.6" y1="504.8" x2="540.6" y2="504.8" stroke="#222" stroke-width="2" />
<text x="533" y="509.8" font-size="14" font-weight="bold" text-anchor="end" fill="#1c1c1c" >1500000</text>
<line x1="830.6" y1="312.5" x2="835.6" y2="312.5" stroke="#222" stroke-width="2" />
<text x="839.5" y="317.5" font-size="14" font-weight="bold" text-anchor="start" fill="#1c1c1c" >0</text>
<line x1="830.6" y1="360.57" x2="835.6" y2="360.57" stroke="#222" stroke-width="2" />
<text x="839.5" y="365.57" font-size="14" font-weight="bold" text-anchor="start" fill="#1c1c1c" >-20</text>
<line x1="830.6" y1="408.65" x2="835.6" y2="408.65" stroke="#222" stroke-width="2" />
<text x="839.5" y="413.65" font-size="14" font-weight="bold" text-anchor="start" fill="#1c1c1c" >-40</text>
<line x1="830.6" y1="456.73" x2="835.6" y2="456.73" stroke="#222" stroke-width="2" />
<text x="839.5" y="461.73" font-size="14" font-weight="bold" text-anchor="start" fill="#1c1c1c" >-60</text>
<line x1="830.6" y1="504.8" x2="835.6" y2="504.8" stroke="#222" stroke-width="2" />
<text x="839.5" y="509.8" font-size="14" font-weight="bold" text-anchor="start" fill="#1c1c1c" >-80</text>
<line x1="540.6" y1="504.8" x2="540.6" y2="510.8" stroke="#222" stroke-width="2" />
<text x="541.6" y="527" font-size="14.6" font-weight="bold" text-anchor="middle" fill="#1c1c1c">10<tspan font-size="8" dy="-5.5">-1</tspan></text>
<line x1="551.51" y1="504.8" x2="551.51" y2="507.8" stroke="#222" stroke-width="1.4" />
<line x1="557.9" y1="504.8" x2="557.9" y2="507.8" stroke="#222" stroke-width="1.4" />
<line x1="562.42" y1="504.8" x2="562.42" y2="507.8" stroke="#222" stroke-width="1.4" />
<line x1="565.94" y1="504.8" x2="565.94" y2="507.8" stroke="#222" stroke-width="1.4" />
<line x1="568.81" y1="504.8" x2="568.81" y2="507.8" stroke="#222" stroke-width="1.4" />
<line x1="571.23" y1="504.8" x2="571.23" y2="507.8" stroke="#222" stroke-width="1.4" />
<line x1="573.34" y1="504.8" x2="573.34" y2="507.8" stroke="#222" stroke-width="1.4" />
<line x1="575.19" y1="504.8" x2="575.19" y2="507.8" stroke="#222" stroke-width="1.4" />
<line x1="576.85" y1="504.8" x2="576.85" y2="510.8" stroke="#222" stroke-width="2" />
<text x="577.85" y="527" font-size="14.6" font-weight="bold" text-anchor="middle" fill="#1c1c1c">10<tspan font-size="8" dy="-5.5">0</tspan></text>
<line x1="587.76" y1="504.8" x2="587.76" y2="507.8" stroke="#222" stroke-width="1.4" />
<line x1="594.15" y1="504.8" x2="594.15" y2="507.8" stroke="#222" stroke-width="1.4" />
<line x1="598.67" y1="504.8" x2="598.67" y2="507.8" stroke="#222" stroke-width="1.4" />
<line x1="602.19" y1="504.8" x2="602.19" y2="507.8" stroke="#222" stroke-width="1.4" />
<line x1="605.06" y1="504.8" x2="605.06" y2="507.8" stroke="#222" stroke-width="1.4" />
<line x1="607.48" y1="504.8" x2="607.48" y2="507.8" stroke="#222" stroke-width="1.4" />
<line x1="609.59" y1="504.8" x2="609.59" y2="507.8" stroke="#222" stroke-width="1.4" />
<line x1="611.44" y1="504.8" x2="611.44" y2="507.8" stroke="#222" stroke-width="1.4" />
<line x1="613.1" y1="504.8" x2="613.1" y2="510.8" stroke="#222" stroke-width="2" />
<text x="614.1" y="527" font-size="14.6" font-weight="bold" text-anchor="middle" fill="#1c1c1c">10<tspan font-size="8" dy="-5.5">1</tspan></text>
<line x1="624.01" y1="504.8" x2="624.01" y2="507.8" stroke="#222" stroke-width="1.4" />
<line x1="630.4" y1="504.8" x2="630.4" y2="507.8" stroke="#222" stroke-width="1.4" />
<line x1="634.92" y1="504.8" x2="634.92" y2="507.8" stroke="#222" stroke-width="1.4" />
<line x1="638.44" y1="504.8" x2="638.44" y2="507.8" stroke="#222" stroke-width="1.4" />
<line x1="641.31" y1="504.8" x2="641.31" y2="507.8" stroke="#222" stroke-width="1.4" />
<line x1="643.73" y1="504.8" x2="643.73" y2="507.8" stroke="#222" stroke-width="1.4" />
<line x1="645.84" y1="504.8" x2="645.84" y2="507.8" stroke="#222" stroke-width="1.4" />
<line x1="647.69" y1="504.8" x2="647.69" y2="507.8" stroke="#222" stroke-width="1.4" />
<line x1="649.35" y1="504.8" x2="649.35" y2="510.8" stroke="#222" stroke-width="2" />
<text x="650.35" y="527" font-size="14.6" font-weight="bold" text-anchor="middle" fill="#1c1c1c">10<tspan font-size="8" dy="-5.5">2</tspan></text>
<line x1="660.26" y1="504.8" x2="660.26" y2="507.8" stroke="#222" stroke-width="1.4" />
<line x1="666.65" y1="504.8" x2="666.65" y2="507.8" stroke="#222" stroke-width="1.4" />
<line x1="671.17" y1="504.8" x2="671.17" y2="507.8" stroke="#222" stroke-width="1.4" />
<line x1="674.69" y1="504.8" x2="674.69" y2="507.8" stroke="#222" stroke-width="1.4" />
<line x1="677.56" y1="504.8" x2="677.56" y2="507.8" stroke="#222" stroke-width="1.4" />
<line x1="679.98" y1="504.8" x2="679.98" y2="507.8" stroke="#222" stroke-width="1.4" />
<line x1="682.09" y1="504.8" x2="682.09" y2="507.8" stroke="#222" stroke-width="1.4" />
<line x1="683.94" y1="504.8" x2="683.94" y2="507.8" stroke="#222" stroke-width="1.4" />
<line x1="685.6" y1="504.8" x2="685.6" y2="510.8" stroke="#222" stroke-width="2" />
<text x="686.6" y="527" font-size="14.6" font-weight="bold" text-anchor="middle" fill="#1c1c1c">10<tspan font-size="8" dy="-5.5">3</tspan></text>
<line x1="696.51" y1="504.8" x2="696.51" y2="507.8" stroke="#222" stroke-width="1.4" />
<line x1="702.9" y1="504.8" x2="702.9" y2="507.8" stroke="#222" stroke-width="1.4" />
<line x1="707.42" y1="504.8" x2="707.42" y2="507.8" stroke="#222" stroke-width="1.4" />
<line x1="710.94" y1="504.8" x2="710.94" y2="507.8" stroke="#222" stroke-width="1.4" />
<line x1="713.81" y1="504.8" x2="713.81" y2="507.8" stroke="#222" stroke-width="1.4" />
<line x1="716.23" y1="504.8" x2="716.23" y2="507.8" stroke="#222" stroke-width="1.4" />
<line x1="718.34" y1="504.8" x2="718.34" y2="507.8" stroke="#222" stroke-width="1.4" />
<line x1="720.19" y1="504.8" x2="720.19" y2="507.8" stroke="#222" stroke-width="1.4" />
<line x1="721.85" y1="504.8" x2="721.85" y2="510.8" stroke="#222" stroke-width="2" />
<text x="722.85" y="527" font-size="14.6" font-weight="bold" text-anchor="middle" fill="#1c1c1c">10<tspan font-size="8" dy="-5.5">4</tspan></text>
<line x1="732.76" y1="504.8" x2="732.76" y2="507.8" stroke="#222" stroke-width="1.4" />
<line x1="739.15" y1="504.8" x2="739.15" y2="507.8" stroke="#222" stroke-width="1.4" />
<line x1="743.67" y1="504.8" x2="743.67" y2="507.8" stroke="#222" stroke-width="1.4" />
<line x1="747.19" y1="504.8" x2="747.19" y2="507.8" stroke="#222" stroke-width="1.4" />
<line x1="750.06" y1="504.8" x2="750.06" y2="507.8" stroke="#222" stroke-width="1.4" />
<line x1="752.48" y1="504.8" x2="752.48" y2="507.8" stroke="#222" stroke-width="1.4" />
<line x1="754.59" y1="504.8" x2="754.59" y2="507.8" stroke="#222" stroke-width="1.4" />
<line x1="756.44" y1="504.8" x2="756.44" y2="507.8" stroke="#222" stroke-width="1.4" />
<line x1="758.1" y1="504.8" x2="758.1" y2="510.8" stroke="#222" stroke-width="2" />
<text x="759.1" y="527" font-size="14.6" font-weight="bold" text-anchor="middle" fill="#1c1c1c">10<tspan font-size="8" dy="-5.5">5</tspan></text>
<line x1="769.01" y1="504.8" x2="769.01" y2="507.8" stroke="#222" stroke-width="1.4" />
<line x1="775.4" y1="504.8" x2="775.4" y2="507.8" stroke="#222" stroke-width="1.4" />
<line x1="779.92" y1="504.8" x2="779.92" y2="507.8" stroke="#222" stroke-width="1.4" />
<line x1="783.44" y1="504.8" x2="783.44" y2="507.8" stroke="#222" stroke-width="1.4" />
<line x1="786.31" y1="504.8" x2="786.31" y2="507.8" stroke="#222" stroke-width="1.4" />
<line x1="788.73" y1="504.8" x2="788.73" y2="507.8" stroke="#222" stroke-width="1.4" />
<line x1="790.84" y1="504.8" x2="790.84" y2="507.8" stroke="#222" stroke-width="1.4" />
<line x1="792.69" y1="504.8" x2="792.69" y2="507.8" stroke="#222" stroke-width="1.4" />
<line x1="794.35" y1="504.8" x2="794.35" y2="510.8" stroke="#222" stroke-width="2" />
<text x="795.35" y="527" font-size="14.6" font-weight="bold" text-anchor="middle" fill="#1c1c1c">10<tspan font-size="8" dy="-5.5">6</tspan></text>
<line x1="805.26" y1="504.8" x2="805.26" y2="507.8" stroke="#222" stroke-width="1.4" />
<line x1="811.65" y1="504.8" x2="811.65" y2="507.8" stroke="#222" stroke-width="1.4" />
<line x1="816.17" y1="504.8" x2="816.17" y2="507.8" stroke="#222" stroke-width="1.4" />
<line x1="819.69" y1="504.8" x2="819.69" y2="507.8" stroke="#222" stroke-width="1.4" />
<line x1="822.56" y1="504.8" x2="822.56" y2="507.8" stroke="#222" stroke-width="1.4" />
<line x1="824.98" y1="504.8" x2="824.98" y2="507.8" stroke="#222" stroke-width="1.4" />
<line x1="827.09" y1="504.8" x2="827.09" y2="507.8" stroke="#222" stroke-width="1.4" />
<line x1="828.94" y1="504.8" x2="828.94" y2="507.8" stroke="#222" stroke-width="1.4" />
<line x1="830.6" y1="504.8" x2="830.6" y2="510.8" stroke="#222" stroke-width="2" />
<text x="831.6" y="527" font-size="14.6" font-weight="bold" text-anchor="middle" fill="#1c1c1c">10<tspan font-size="8" dy="-5.5">7</tspan></text>
<text x="685" y="548.5" font-size="15" font-weight="bold" text-anchor="middle" fill="#1c1c1c" textLength="114.5" lengthAdjust="spacingAndGlyphs">Frequency (Hz)</text>
<text transform="translate(468.5,408.4) rotate(-90)" font-size="16.5" font-weight="bold" text-anchor="middle" fill="#1c1c1c">|Z|( <tspan font-size="17.82" font-family="'Liberation Serif', serif">&#937;</tspan>)</text>
<text transform="translate(872.5,409) rotate(90)" font-size="16" font-weight="bold" text-anchor="middle" fill="#1c1c1c">Phase (degrees)</text>
<path d="M576.4 417.1 C578.72 415.22 585.05 409.03 590.3 405.8 C595.55 402.57 602.43 398.13 607.9 397.7 C613.37 397.27 618.05 398.92 623.1 403.2 C628.15 407.48 633.15 416.67 638.2 423.4 C643.25 430.13 648.93 438.17 653.4 443.6 C657.87 449.03 660.32 452.88 665 456 C669.68 459.12 676.38 462.2 681.5 462.3 C686.62 462.4 691.32 460.25 695.7 456.6 C700.08 452.95 703.7 446.5 707.8 440.4 C711.9 434.3 714.85 429.27 720.3 420 C725.75 410.73 733.77 395.03 740.5 384.8 C747.23 374.57 754.63 365.33 760.7 358.6 C766.77 351.87 771.52 348.1 776.9 344.4 C782.28 340.7 790.32 337.73 793 336.4" fill="none" stroke="#b460dc" stroke-width="3.4" stroke-linejoin="round" stroke-dasharray="10 6"/>
<path d="M576.4 468.9 C579.13 470.58 587.12 478.15 592.8 479 C598.48 479.85 604.18 477.78 610.5 474 C616.82 470.22 624.4 462.63 630.7 456.3 C637 449.97 642.58 443.17 648.3 436 C654.02 428.83 658.05 422.17 665 413.3 C671.95 404.43 682.85 391.68 690 382.8 C697.15 373.92 703.92 365.05 707.9 360 C711.88 354.95 711.05 355.43 713.9 352.5 C716.75 349.57 720.57 345.77 725 342.4 C729.43 339.03 732.87 336 740.5 332.3 C748.13 328.6 762.38 323.23 770.8 320.2 C779.22 317.17 787.63 315.12 791 314.1" fill="none" stroke="#0a14e8" stroke-width="3.6" stroke-linejoin="round" stroke-dasharray="10 6"/>
<path d="M576.4 468.9 C577.03 464.68 578.73 450.75 580.2 443.6 C581.67 436.45 583.1 432.3 585.2 426 C587.3 419.7 589.85 412.53 592.8 405.8 C595.75 399.07 599.12 391.92 602.9 385.6 C606.68 379.28 612.32 372.17 615.5 367.9 C618.68 363.63 619.57 362.9 622 360 C624.43 357.1 627.07 353.93 630.1 350.5 C633.13 347.07 636.83 342.77 640.2 339.4 C643.57 336.03 646.93 332.83 650.3 330.3 C653.67 327.77 657.03 325.88 660.4 324.2 C663.77 322.52 667.13 321.45 670.5 320.2 C673.87 318.95 677.23 317.63 680.6 316.7 C683.97 315.77 687.33 315.12 690.7 314.6 C694.07 314.08 683.58 313.83 700.8 313.6 C718.02 313.37 778.47 313.27 794 313.2" fill="none" stroke="#b460dc" stroke-width="3" stroke-linejoin="round" />
<path d="M577.5 316.6 C578.58 316.33 581.82 315.4 584 315 C586.18 314.6 586.13 314.47 590.6 314.2 C595.07 313.93 592.57 313.58 610.8 313.4 C629.03 313.22 669.47 313.15 700 313.1 C730.53 313.05 778.33 313.1 794 313.1" fill="none" stroke="#0a14e8" stroke-width="3" stroke-linejoin="round" />
<line x1="705.3" y1="450" x2="725.3" y2="450" stroke="#b460dc" stroke-width="3.2" />
<text x="737.1" y="454.3" font-size="12.2" font-weight="normal" text-anchor="start" fill="#404040" stroke="#404040" stroke-width="0.35">Fab (Mag)</text>
<line x1="705.3" y1="465.1" x2="725.3" y2="465.1" stroke="#0a14e8" stroke-width="3.2" />
<text x="737.1" y="469.4" font-size="12.2" font-weight="normal" text-anchor="start" fill="#404040" stroke="#404040" stroke-width="0.35">Fab + GO (Mag)</text>
<line x1="705.3" y1="480.2" x2="714" y2="480.2" stroke="#b460dc" stroke-width="3.2" />
<line x1="721.5" y1="480.2" x2="725.3" y2="480.2" stroke="#b460dc" stroke-width="3.2" />
<text x="737.1" y="484.5" font-size="12.2" font-weight="normal" text-anchor="start" fill="#404040" stroke="#404040" stroke-width="0.35">Fab (Phs)</text>
<line x1="705.3" y1="495.3" x2="714" y2="495.3" stroke="#0a14e8" stroke-width="3.2" />
<line x1="721.5" y1="495.3" x2="725.3" y2="495.3" stroke="#0a14e8" stroke-width="3.2" />
<text x="737.1" y="499.6" font-size="12.2" font-weight="normal" text-anchor="start" fill="#404040" stroke="#404040" stroke-width="0.35">Fab + GO (Phs)</text>
<line x1="989.6" y1="311.7" x2="989.6" y2="401.5" stroke="#222" stroke-width="2.2" />
<line x1="984.5" y1="401.5" x2="994" y2="401.5" stroke="#222" stroke-width="2.2" />
<line x1="989.6" y1="415.7" x2="989.6" y2="505.3" stroke="#222" stroke-width="2.2" />
<line x1="984.5" y1="415.7" x2="994" y2="415.7" stroke="#222" stroke-width="2.2" />
<line x1="988.6" y1="504.3" x2="1278.5" y2="504.3" stroke="#222" stroke-width="2.2" />
<line x1="984.6" y1="395.5" x2="989.6" y2="395.5" stroke="#222" stroke-width="2" />
<text x="981" y="400.5" font-size="14" font-weight="bold" text-anchor="end" fill="#1c1c1c" >800000</text>
<line x1="984.6" y1="371.8" x2="989.6" y2="371.8" stroke="#222" stroke-width="2" />
<text x="981" y="376.8" font-size="14" font-weight="bold" text-anchor="end" fill="#1c1c1c" >1000000</text>
<line x1="984.6" y1="348.1" x2="989.6" y2="348.1" stroke="#222" stroke-width="2" />
<text x="981" y="353.1" font-size="14" font-weight="bold" text-anchor="end" fill="#1c1c1c" >1200000</text>
<line x1="984.6" y1="324.4" x2="989.6" y2="324.4" stroke="#222" stroke-width="2" />
<text x="981" y="329.4" font-size="14" font-weight="bold" text-anchor="end" fill="#1c1c1c" >1400000</text>
<line x1="984.6" y1="504.3" x2="989.6" y2="504.3" stroke="#222" stroke-width="2" />
<text x="981" y="509.3" font-size="14" font-weight="bold" text-anchor="end" fill="#1c1c1c" >0</text>
<line x1="984.6" y1="474.8" x2="989.6" y2="474.8" stroke="#222" stroke-width="2" />
<text x="981" y="479.8" font-size="14" font-weight="bold" text-anchor="end" fill="#1c1c1c" >10000</text>
<line x1="984.6" y1="445.3" x2="989.6" y2="445.3" stroke="#222" stroke-width="2" />
<text x="981" y="450.3" font-size="14" font-weight="bold" text-anchor="end" fill="#1c1c1c" >20000</text>
<line x1="984.6" y1="415.8" x2="989.6" y2="415.8" stroke="#222" stroke-width="2" />
<text x="981" y="420.8" font-size="14" font-weight="bold" text-anchor="end" fill="#1c1c1c" >30000</text>
<line x1="1033.9" y1="504.3" x2="1033.9" y2="509.8" stroke="#222" stroke-width="2" />
<text transform="translate(1039.4,521.6) rotate(-45) scale(1.07,1)" font-size="13.2" font-weight="bold" text-anchor="end" fill="#1c1c1c">Baseline</text>
<line x1="1100" y1="504.3" x2="1100" y2="509.8" stroke="#222" stroke-width="2" />
<text transform="translate(1105.5,521.6) rotate(-45) scale(1.07,1)" font-size="13.2" font-weight="bold" text-anchor="end" fill="#1c1c1c">Wash #1</text>
<line x1="1166.3" y1="504.3" x2="1166.3" y2="509.8" stroke="#222" stroke-width="2" />
<text transform="translate(1171.8,521.6) rotate(-45) scale(1.07,1)" font-size="13.2" font-weight="bold" text-anchor="end" fill="#1c1c1c">Wash #2</text>
<line x1="1232.6" y1="504.3" x2="1232.6" y2="509.8" stroke="#222" stroke-width="2" />
<text transform="translate(1238.1,521.6) rotate(-45) scale(1.07,1)" font-size="13.2" font-weight="bold" text-anchor="end" fill="#1c1c1c">Wash #3</text>
<text x="1134" y="588.4" font-size="15" font-weight="bold" text-anchor="middle" fill="#1c1c1c" >Step</text>
<text transform="translate(927.5,408.4) rotate(-90)" font-size="16.5" font-weight="bold" text-anchor="middle" fill="#1c1c1c">|Z|( <tspan font-size="17.82" font-family="'Liberation Serif', serif">&#937;</tspan>)</text>
<line x1="1033.7" y1="358.9" x2="1033.7" y2="385" stroke="#222" stroke-width="2.2" />
<line x1="1022.5" y1="358.9" x2="1044.5" y2="358.9" stroke="#222" stroke-width="2.2" />
<rect x="1012" y="384.7" width="43" height="16.3" fill="#0000f2" stroke="#111" stroke-width="1.8"/>
<rect x="1012" y="416.5" width="43" height="87.8" fill="#0000f2" stroke="#111" stroke-width="1.8"/>
<line x1="1090" y1="474.4" x2="1110" y2="474.4" stroke="#222" stroke-width="1.8" />
<rect x="1079" y="476.2" width="42" height="28.1" fill="#0000f2" stroke="#111" stroke-width="1.8"/>
<line x1="1156.3" y1="474.4" x2="1176.3" y2="474.4" stroke="#222" stroke-width="1.8" />
<rect x="1145.3" y="476.2" width="42" height="28.1" fill="#0000f2" stroke="#111" stroke-width="1.8"/>
<line x1="1222.6" y1="476.1" x2="1242.6" y2="476.1" stroke="#222" stroke-width="1.8" />
<rect x="1211.6" y="477.9" width="42" height="26.4" fill="#0000f2" stroke="#111" stroke-width="1.8"/>
<path d="M1010.5 359.6 L1010.5 345.8 L1054 345.8 L1054 359.6" fill="none" stroke="#111" stroke-width="2.4" stroke-linejoin="round" />
<text x="1035.7" y="338.2" font-size="15" font-weight="normal" text-anchor="middle" fill="#404040" >w/o GO</text>
<path d="M1096 467.3 L1096 429.5 L1233.3 429.5 L1233.3 467.3" fill="none" stroke="#111" stroke-width="2.6" stroke-linejoin="round" />
<text x="1167.3" y="414.2" font-size="15.5" font-weight="normal" text-anchor="middle" fill="#404040" >w/ GO</text>
</svg>
</body></html>
